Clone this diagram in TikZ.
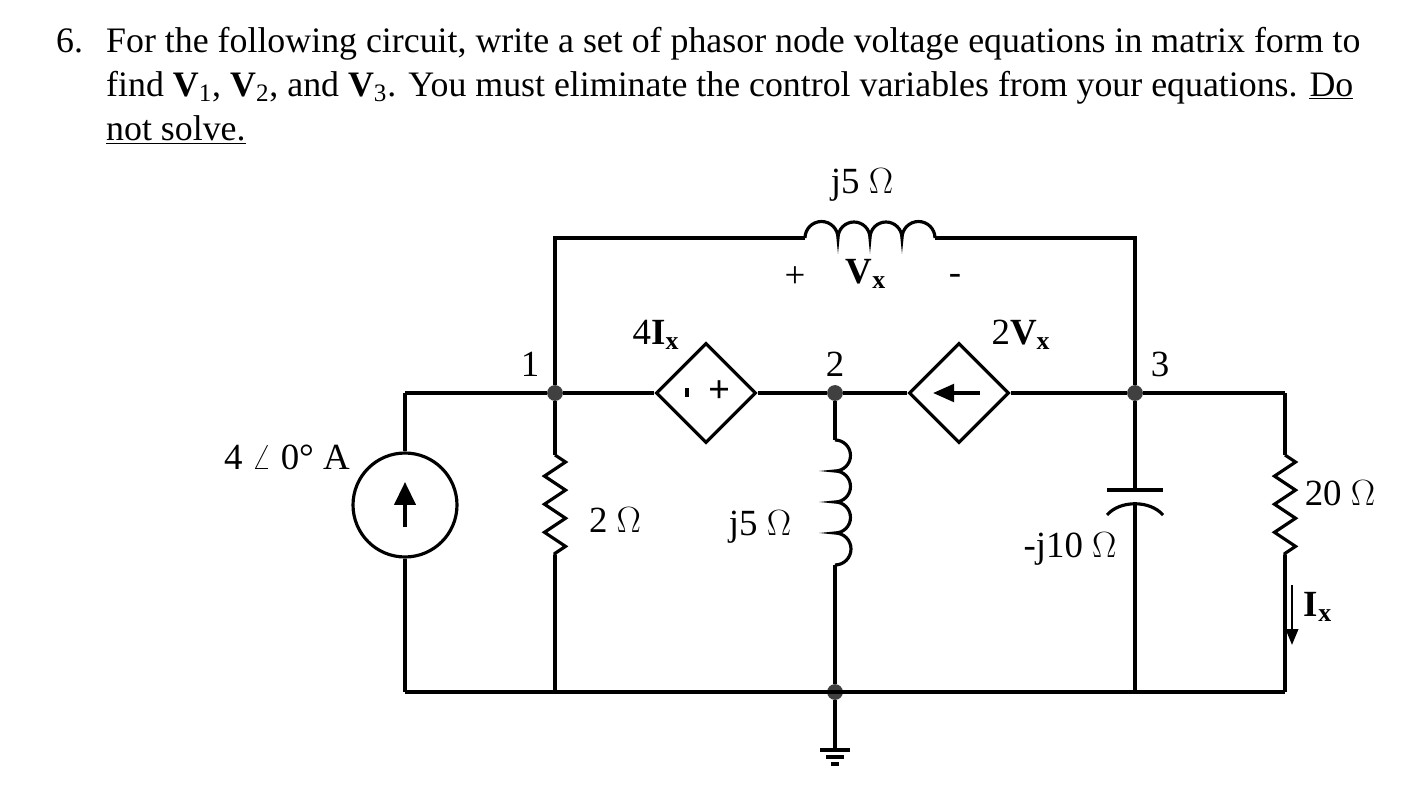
\documentclass[tikz,border=0pt]{standalone}
\usepackage{fontspec}
\setmainfont{Liberation Serif}
\usetikzlibrary{decorations.pathmorphing,arrows.meta,shapes.geometric}
\begin{document}
\begin{tikzpicture}[x=0.02cm,y=-0.02cm,
  wire/.style={line width=1.8pt},
  dot/.style={circle,fill=black!75,inner sep=0pt,minimum size=9pt},
  lbl/.style={font=\fontsize{21}{24}\selectfont},
  dep/.style={diamond,draw,line width=1.8pt,inner sep=0pt,minimum width=2cm,minimum height=2cm},
  res/.style={wire,decorate,decoration={zigzag,segment length=16pt,amplitude=6pt}}]
\useasboundingbox (0,0) rectangle (1428,798);
% problem text
\node[anchor=base west,font=\fontsize{20.4}{24}\selectfont] (t1) at (50,52) {6.};
\node[anchor=base west,font=\fontsize{20.4}{24}\selectfont] (t2) at (100,52) {For the following circuit, write a set of phasor node voltage equations in matrix form to};
\node[anchor=base west,font=\fontsize{20.4}{24}\selectfont] (t3) at (100,96) {find \textbf{V}\textsubscript{1}, \textbf{V}\textsubscript{2}, and \textbf{V}\textsubscript{3}. You must eliminate the control variables from your equations. \underline{Do}};
\node[anchor=base west,font=\fontsize{20.4}{24}\selectfont] (t4) at (100,140) {\underline{not solve.}};
% nodes
\node[dot] (n1) at (555,393) {};
\node[dot] (n2) at (835,393) {};
\node[dot] (n3) at (1135,393) {};
\node[dot] (g) at (835,692) {};
\coordinate (tl) at (555,238);
\coordinate (tr) at (1135,238);
\coordinate (la) at (805,238);
\coordinate (lb) at (935,238);
\coordinate (sl) at (405,393);
\coordinate (sr) at (1285,393);
\coordinate (bl) at (405,692);
\coordinate (br) at (1285,692);
\coordinate (b1) at (555,692);
\coordinate (b3) at (1135,692);
% top branch with inductor
\draw[wire] (n1) -- (tl) -- (la);
\draw[wire] (la) arc[start angle=180,end angle=0,radius=0.33cm]
  arc[start angle=180,end angle=0,radius=0.32cm]
  arc[start angle=180,end angle=0,radius=0.32cm]
  arc[start angle=180,end angle=0,radius=0.33cm];
\draw[wire] (lb) -- (tr) -- (n3);
\node[lbl] (lx) at (862,185) {j5 $\Omega$};
\node[lbl] (vp) at (795,277) {+};
\node[lbl] (vx) at (866,274) {$\mathbf{V_x}$};
\node[lbl] (vm) at (955,279) {-};
% source
\node[circle,draw,line width=1.8pt,minimum size=2.08cm] (cs) at (405,505) {};
\draw[-{Triangle[length=13pt,width=12pt]},line width=2pt] (405,527) -- (405,482);
\draw[wire] (sl) -- (cs.north);
\draw[wire] (cs.south) -- (bl);
\node[lbl] (sv) at (287,457) {4 $\angle$ 0\textdegree{} A};
% main rail
\draw[wire] (sl) -- (n1);
\node[dep] (d1) at (706,393) {};
\draw[wire] (n1) -- (d1.west);
\draw[wire] (d1.east) -- (n2);
\draw[line width=2pt] (687,388) -- (687,397);
\node[font=\bfseries\fontsize{22}{24}\selectfont] (dp) at (720,392) {+};
\node[lbl] (d1l) at (656,335) {4$\mathbf{I_x}$};
\node[dep] (d2) at (959,393) {};
\draw[wire] (n2) -- (d2.west);
\draw[wire] (d2.east) -- (n3);
\draw[-{Triangle[length=12pt,width=10pt]},line width=2pt] (980,393) -- (933,393);
\node[lbl] (d2l) at (1021,335) {2$\mathbf{V_x}$};
\draw[wire] (n3) -- (sr);
\node[lbl] (l1) at (530,364) {1};
\node[lbl] (l2) at (835,364) {2};
\node[lbl] (l3) at (1160,364) {3};
% 2 ohm
\coordinate (r1a) at (555,455);
\coordinate (r1b) at (555,555);
\draw[wire] (n1) -- (r1a);
\draw[res] (r1a) -- (r1b);
\draw[wire] (r1b) -- (b1);
\node[lbl] (r1l) at (615,520) {2 $\Omega$};
% inductor j5
\coordinate (i2a) at (835,440);
\coordinate (i2b) at (835,565);
\draw[wire] (n2) -- (i2a);
\draw[wire] (i2a) arc[start angle=90,end angle=-90,radius=0.31cm]
  arc[start angle=90,end angle=-90,radius=0.31cm]
  arc[start angle=90,end angle=-90,radius=0.31cm]
  arc[start angle=90,end angle=-90,radius=0.32cm];
\draw[wire] (i2b) -- (g);
\node[lbl] (i2l) at (760,527) {j5 $\Omega$};
% capacitor
\coordinate (c1) at (1135,490);
\coordinate (c2) at (1135,505);
\draw[wire] (n3) -- (c1);
\draw[wire] (1107,490) -- (1163,490);
\draw[wire] (1107,515) .. controls (1120,500) and (1150,500) .. (1163,515);
\draw[wire] (c2) -- (b3);
\node[lbl] (cl) at (1070,549) {-j10 $\Omega$};
% 20 ohm
\coordinate (r3a) at (1285,455);
\coordinate (r3b) at (1285,555);
\draw[wire] (sr) -- (r3a);
\draw[res] (r3a) -- (r3b);
\draw[wire] (r3b) -- (br);
\node[lbl] (r3l) at (1340,493) {20 $\Omega$};
\coordinate (ia) at (1292,585);
\coordinate (ib) at (1292,645);
\draw[line width=1.4pt,-{Triangle[length=9pt,width=7pt]}] (ia) -- (ib);
\node[lbl] (il) at (1318,607) {$\mathbf{I_x}$};
% bottom rail and ground
\draw[wire] (bl) -- (br);
\coordinate (gg) at (835,750);
\draw[wire] (g) -- (gg);
\draw[wire] (820,750) -- (850,750);
\draw[wire] (826,757) -- (844,757);
\draw[wire] (831,764) -- (839,764);
\end{tikzpicture}
\end{document}
